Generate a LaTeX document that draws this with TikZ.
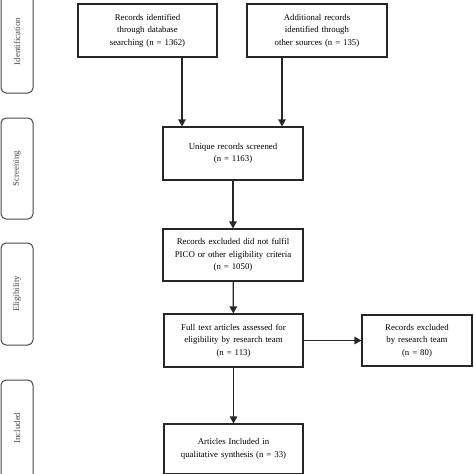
\documentclass[tikz,border=0pt]{standalone}
\usepackage{fontspec}
\setmainfont{Liberation Serif}
\usetikzlibrary{arrows.meta}
\definecolor{ink}{HTML}{262626}
\definecolor{lab}{HTML}{4A4A4A}
\tikzset{
  box/.style={draw=ink, line width=1.2pt, rectangle, minimum height=53pt, text width=#1, align=center, inner sep=0pt, font=\fontsize{8.8}{12.6}\selectfont, text=black},
  box/.default=130pt,
  stage/.style={draw=ink!85, line width=1pt, rounded corners=5pt, minimum width=32pt, inner sep=0pt},
  stagetxt/.style={rotate=90, font=\fontsize{8.8}{10}\selectfont, text=lab},
  arr/.style={draw=ink, line width=1.2pt, -{Triangle[length=7pt,width=7.5pt]}}
}
\begin{document}
\begin{tikzpicture}[x=1pt,y=-1pt]
\useasboundingbox (0,0) rectangle (474,474);
\clip (0,0) rectangle (474,474);
\fill[white] (0,0) rectangle (474,474);
% stage labels
\node[stage, minimum height=103pt] (s1) at (17,41.5) {};
\node[stagetxt] (t1) at (s1.center) {Identification};
\node[stage, minimum height=101pt] (s2) at (17,168.5) {};
\node[stagetxt] (t2) at (s2.center) {Screening};
\node[stage, minimum height=102pt] (s3) at (17,294) {};
\node[stagetxt] (t3) at (s3.center) {Eligibility};
\node[stage, minimum height=110pt] (s4) at (17,435) {};
\node[stagetxt] (t4) at (17,428) {Included};
% boxes
\node[box, minimum width=139pt] (b1) at (147.5,30.5) {Records identified\\through database\\searching (n = 1362)};
\node[box, minimum width=140pt] (b2) at (317,30.5) {Additional records\\identified through\\other sources (n = 135)};
\node[box, minimum width=140pt] (b3) at (233,153.5) {Unique records screened\\(n = 1163)};
\node[box, minimum width=140pt, minimum height=52pt] (b4) at (233,255) {Records excluded did not fulfil\\PICO or other eligibility criteria\\(n = 1050)};
\node[box, minimum width=139pt] (b5) at (233.5,340.5) {Full text articles assessed for\\eligibility by research team\\(n = 113)};
\node[box=100pt, minimum width=110pt, minimum height=51pt] (b6) at (417,340.5) {Records excluded\\by research team\\(n = 80)};
\node[box, minimum width=139pt, minimum height=50pt] (b7) at (233.5,449) {Articles Included in\\qualitative synthesis (n = 33)};
% connectors
\draw[arr] (b1.south -| 182,0) -- (b3.north -| 182,0);
\draw[arr] (b2.south -| 282,0) -- (b3.north -| 282,0);
\draw[arr] (b3) -- (b4);
\draw[arr] (b4) -- (b5);
\draw[arr] (b5) -- (b6);
\draw[arr] (b5) -- (b7);
\end{tikzpicture}
\end{document}
